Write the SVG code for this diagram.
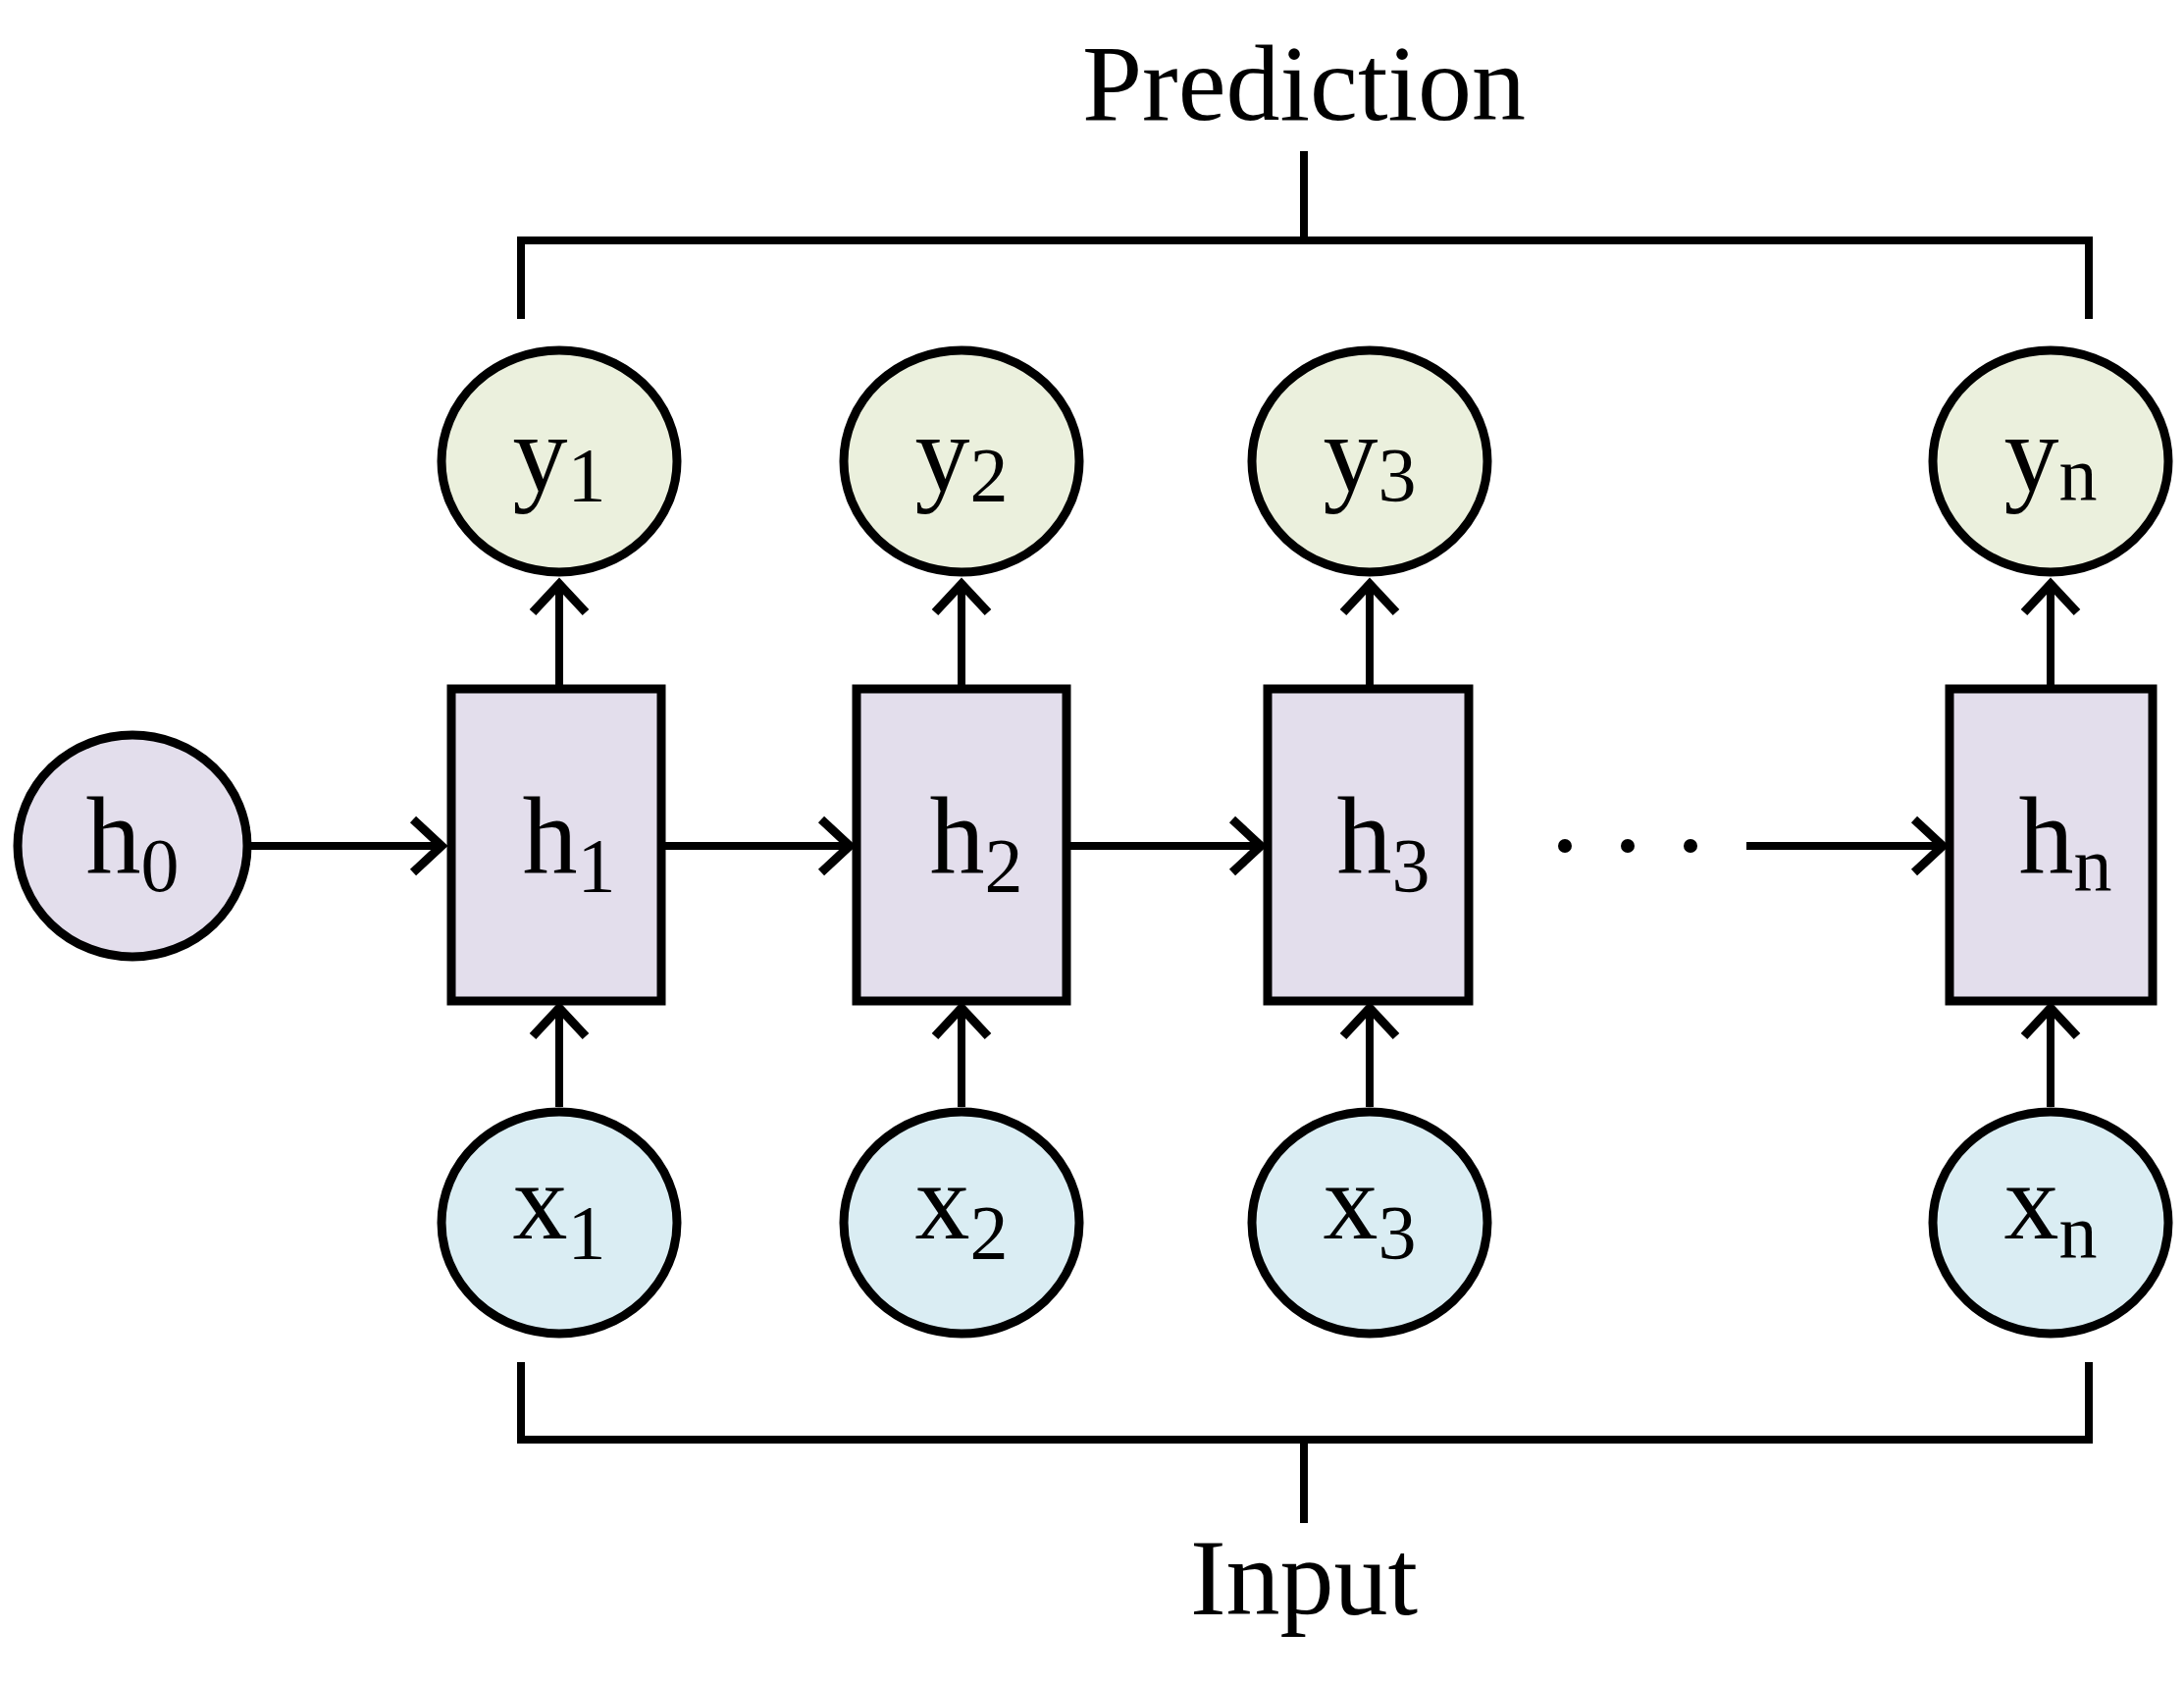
<svg xmlns="http://www.w3.org/2000/svg" width="2226" height="1715" viewBox="0 0 2226 1715">
<style>
.n{stroke:#000;stroke-width:9}
.y{fill:#ebf0dd}.x{fill:#daedf3}.h{fill:#e3deec}
text{font-family:"Liberation Serif",serif;fill:#000}
.t{font-size:112px;text-anchor:middle}
.l{font-size:110px;text-anchor:middle}
.c{stroke:#000;stroke-width:8;fill:none}
</style>
<defs><marker id="a" markerWidth="8" markerHeight="10" refX="7" refY="5" orient="auto" markerUnits="userSpaceOnUse" viewBox="0 0 8 10" overflow="visible"><path d="M-22,-22 L7,5 L-22,32" fill="none" stroke="#000" stroke-width="9"/></marker></defs>
<rect width="2226" height="1715" fill="#fff"/>
<g id="connectors" class="c">
<path d="M531,325V245H2129V325M1329,245V154"/>
<path d="M531,1388V1467H2129V1388M1329,1467V1552"/>
<line x1="256" y1="862" x2="450" y2="862" marker-end="url(#a)"/>
<line x1="674" y1="862" x2="866" y2="862" marker-end="url(#a)"/>
<line x1="1087" y1="862" x2="1285" y2="862" marker-end="url(#a)"/>
<line x1="1780" y1="862" x2="1980" y2="862" marker-end="url(#a)"/>
<line x1="570" y1="702" x2="570" y2="595" marker-end="url(#a)"/>
<line x1="980" y1="702" x2="980" y2="595" marker-end="url(#a)"/>
<line x1="1396" y1="702" x2="1396" y2="595" marker-end="url(#a)"/>
<line x1="2090" y1="702" x2="2090" y2="595" marker-end="url(#a)"/>
<line x1="570" y1="1128" x2="570" y2="1027" marker-end="url(#a)"/>
<line x1="980" y1="1128" x2="980" y2="1027" marker-end="url(#a)"/>
<line x1="1396" y1="1128" x2="1396" y2="1027" marker-end="url(#a)"/>
<line x1="2090" y1="1128" x2="2090" y2="1027" marker-end="url(#a)"/>
</g>
<g id="dots" fill="#000"><circle cx="1595" cy="862" r="7"/><circle cx="1659" cy="862" r="7"/><circle cx="1723" cy="862" r="7"/></g>
<text class="l" x="1329" y="122">Prediction</text>
<text class="l" x="1329" y="1645">Input</text>
<g id="h0"><ellipse class="n h" cx="135" cy="862" rx="117" ry="113"/><text class="t" x="135" y="890">h<tspan font-size="78" dy="18">0</tspan></text></g>
<g id="h1"><rect class="n h" x="460" y="702" width="214" height="318"/><text class="t" x="580" y="890">h<tspan font-size="78" dy="18">1</tspan></text></g>
<g id="h2"><rect class="n h" x="873" y="702" width="214" height="318"/><text class="t" x="995" y="890">h<tspan font-size="78" dy="18">2</tspan></text></g>
<g id="h3"><rect class="n h" x="1292" y="702" width="205" height="318"/><text class="t" x="1410" y="890">h<tspan font-size="78" dy="18">3</tspan></text></g>
<g id="hn"><rect class="n h" x="1987" y="702" width="207" height="318"/><text class="t" x="2105" y="890">h<tspan font-size="78" dy="18">n</tspan></text></g>
<g id="y1"><ellipse class="n y" cx="570" cy="470" rx="120" ry="113"/><text class="t" x="570" y="500">y<tspan font-size="78" dy="10">1</tspan></text></g>
<g id="y2"><ellipse class="n y" cx="980" cy="470" rx="120" ry="113"/><text class="t" x="980" y="500">y<tspan font-size="78" dy="10">2</tspan></text></g>
<g id="y3"><ellipse class="n y" cx="1396" cy="470" rx="120" ry="113"/><text class="t" x="1396" y="500">y<tspan font-size="78" dy="10">3</tspan></text></g>
<g id="yn"><ellipse class="n y" cx="2090" cy="470" rx="120" ry="113"/><text class="t" x="2090" y="500">y<tspan font-size="78" dy="10">n</tspan></text></g>
<g id="x1"><ellipse class="n x" cx="570" cy="1246" rx="120" ry="113"/><text class="t" x="570" y="1262">x<tspan font-size="78" dy="20">1</tspan></text></g>
<g id="x2"><ellipse class="n x" cx="980" cy="1246" rx="120" ry="113"/><text class="t" x="980" y="1262">x<tspan font-size="78" dy="20">2</tspan></text></g>
<g id="x3"><ellipse class="n x" cx="1396" cy="1246" rx="120" ry="113"/><text class="t" x="1396" y="1262">x<tspan font-size="78" dy="20">3</tspan></text></g>
<g id="xn"><ellipse class="n x" cx="2090" cy="1246" rx="120" ry="113"/><text class="t" x="2090" y="1262">x<tspan font-size="78" dy="20">n</tspan></text></g>
</svg>
